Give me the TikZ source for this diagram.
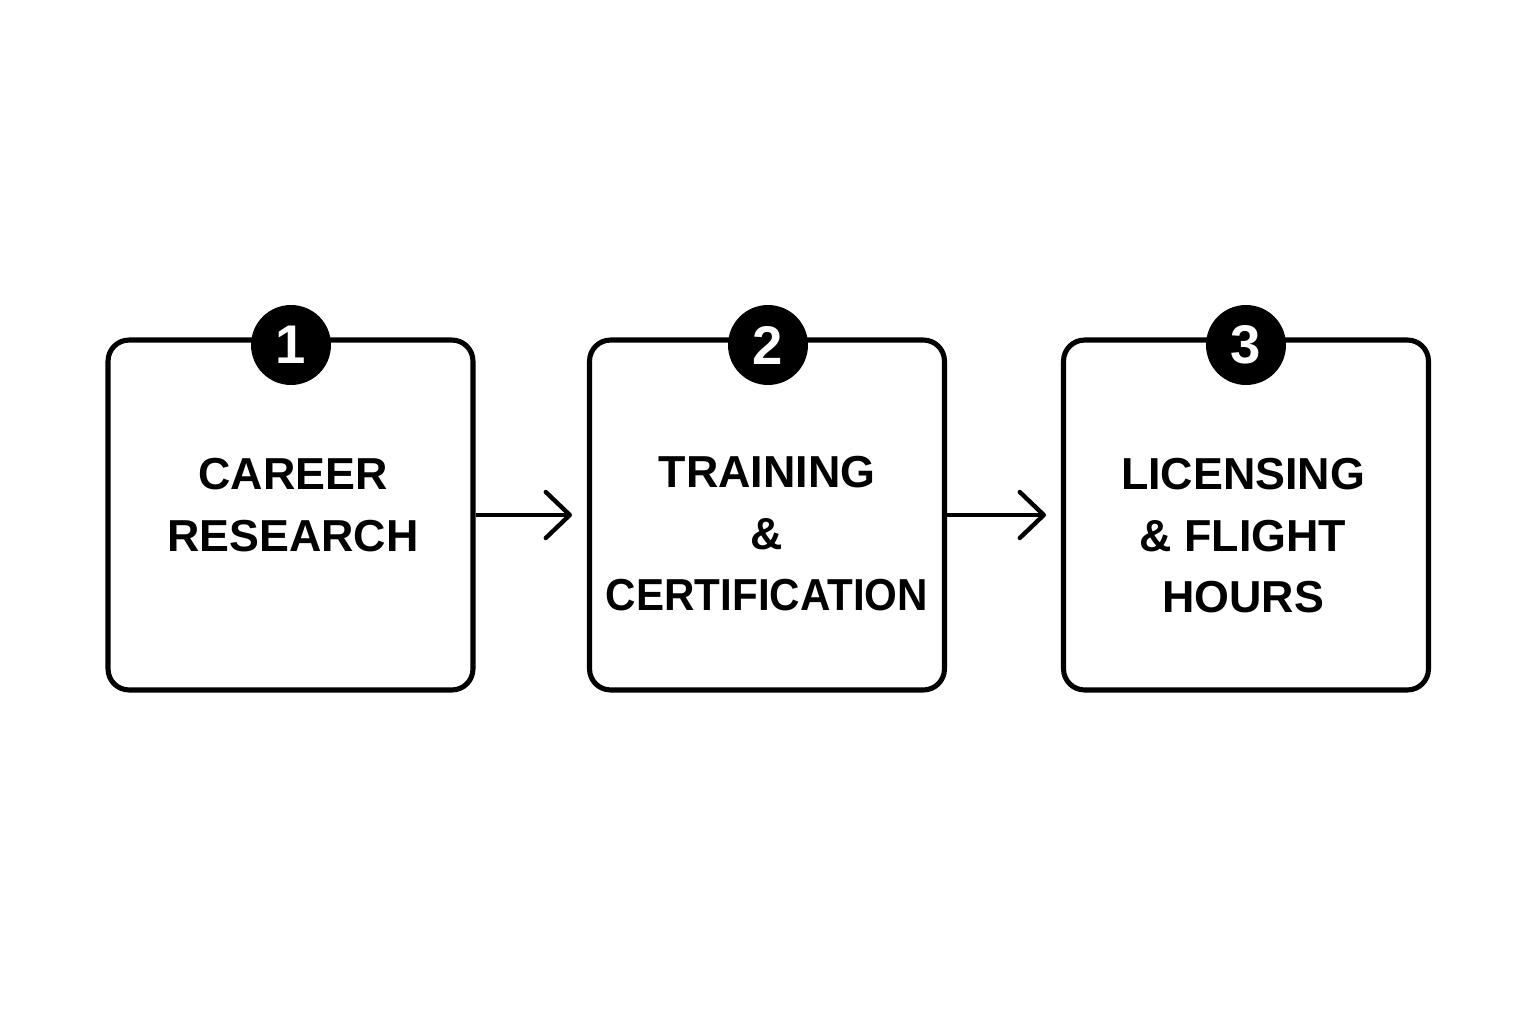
\documentclass[tikz,border=0pt]{standalone}
\usepackage{fontspec}
\setmainfont{Liberation Sans}
\usetikzlibrary{arrows.meta}

\begin{document}
\begin{tikzpicture}[x=0.02cm,y=-0.02cm,
  stepbox/.style={draw=black,line width=2.9pt,rounded corners=0.42cm,minimum width=7.3cm,minimum height=7cm,inner sep=0pt},
  badge/.style={circle,fill=black,minimum size=1.6cm,inner sep=0pt,text=white,font=\bfseries\fontsize{31}{31}\selectfont},
  steptext/.style={align=center,font=\bfseries\fontsize{25.5}{35}\selectfont},
  arr/.style={line width=2.5pt,-{Straight Barb[length=0.48cm,width=0.92cm,line cap=round,line join=round]},shorten >=0.3cm}]
  \useasboundingbox (0,0) rectangle (1536,1024);
  \node[stepbox,minimum width=7.3cm] (box1) at (290.5,515) {};
  \node[stepbox,minimum width=7.1cm] (box2) at (767,515) {};
  \node[stepbox,minimum width=7.3cm] (box3) at (1246,515) {};
  \node[badge] (b1) at (291,345) {1};
  \node[badge] (b2) at (768,345) {2};
  \node[badge] (b3) at (1246,345) {3};
  \node[steptext] (t1) at (293,505) {CAREER\\RESEARCH};
  \node[steptext] (t2) at (767,534) {TRAINING\\\&\\\scalebox{0.94}[1]{CERTIFICATION}};
  \node[steptext] (t3) at (1243,536) {LICENSING\\\& FLIGHT\\HOURS};
  \draw[arr] (box1.east) -- (box2.west);
  \draw[arr] (box2.east) -- (box3.west);
\end{tikzpicture}
\end{document}
